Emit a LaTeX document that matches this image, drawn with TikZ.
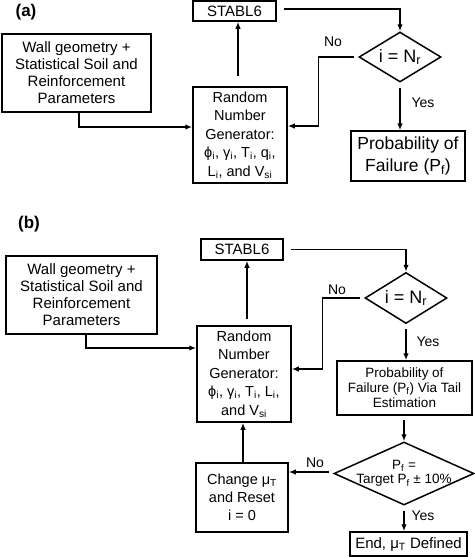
\documentclass[tikz,border=0pt]{standalone}
\usepackage{fontspec}
\setmainfont{Liberation Sans}
\usetikzlibrary{shapes.geometric,arrows.meta}

\newlength{\du}
\setlength{\du}{1pt}
\definecolor{dialinecolor}{rgb}{0.000000, 0.000000, 0.000000}
\tikzset{
  flowbox/.style={draw=dialinecolor, rectangle, align=center, inner sep=0pt},
  flowdiamond/.style={draw=dialinecolor, diamond, align=center, inner sep=0pt},
  flowarrow/.style={draw=dialinecolor, -{Latex[length=7pt,width=5.5pt]}},
  flowlabel/.style={inner sep=0pt, font=\fontsize{14}{16}\selectfont},
  panellabel/.style={inner sep=0pt, font=\bfseries\fontsize{17}{20}\selectfont},
}

\begin{document}
\begin{tikzpicture}
\pgftransformxscale{1.000000}
\pgftransformyscale{-1.000000}
\pgfsetlinewidth{1.500000\du}
\useasboundingbox (0\du,0\du) rectangle (474\du,557\du);
% panel (a)
\node[panellabel] (labelA) at (26\du,12\du){(a)};
\node[flowbox, minimum width=83\du, minimum height=20\du, font=\fontsize{15}{17}\selectfont] (stablA) at (234.5\du,11\du){STABL6};
\node[flowbox, minimum width=149\du, minimum height=78\du, font=\fontsize{15}{17}\selectfont] (wallA) at (76.5\du,73\du){Wall geometry +\\Statistical Soil and\\Reinforcement\\Parameters};
\node[flowbox, minimum width=94\du, minimum height=96\du, font=\fontsize{14.5}{18.5}\selectfont] (rngA) at (240\du,135\du){Random\\Number\\Generator:\\ϕ\textsubscript{i}, γ\textsubscript{i}, T\textsubscript{i}, q\textsubscript{i},\\L\textsubscript{i}, and V\textsubscript{si}};
\node[flowdiamond, aspect=1.64, minimum width=82\du, minimum height=50\du, font=\fontsize{18}{20}\selectfont] (decideA) at (400\du,57\du){i = N\textsubscript{r}};
\node[flowbox, minimum width=114\du, minimum height=50\du, font=\fontsize{17.5}{22}\selectfont] (probA) at (408\du,156\du){Probability of\\Failure (P\textsubscript{f})};
\node[flowlabel] (noA) at (333\du,42\du){No};
\node[flowlabel] (yesA) at (423\du,103\du){Yes};
\draw[flowarrow] ([xshift=2.5\du]wallA.south) |- ([yshift=-8\du]rngA.west);
\draw[flowarrow, shorten <=10\du] ([xshift=-2\du]rngA.north) -- ([xshift=-2\du]rngA.north |- stablA.south);
\draw[flowarrow, shorten <=7\du] ([yshift=-2\du]stablA.east) -| (decideA.north);
\draw[flowarrow, shorten <=4\du] (decideA.west) -- ++(-40\du,0) |- ([yshift=-9\du]rngA.east);
\draw[flowarrow, shorten <=5\du] (decideA.south) -- (decideA.south |- probA.north);
% panel (b)
\node[panellabel] (labelB) at (29\du,224\du){(b)};
\node[flowbox, minimum width=82\du, minimum height=21\du, font=\fontsize{15}{17}\selectfont] (stablB) at (242\du,249.5\du){STABL6};
\node[flowbox, minimum width=151\du, minimum height=78\du, font=\fontsize{15}{17}\selectfont] (wallB) at (81.5\du,295\du){Wall geometry +\\Statistical Soil and\\Reinforcement\\Parameters};
\node[flowbox, minimum width=94\du, minimum height=96\du, font=\fontsize{14.5}{18.5}\selectfont] (rngB) at (244\du,374\du){Random\\Number\\Generator:\\ϕ\textsubscript{i}, γ\textsubscript{i}, T\textsubscript{i}, L\textsubscript{i},\\and V\textsubscript{si}};
\node[flowdiamond, aspect=1.6, minimum width=82\du, minimum height=51\du, font=\fontsize{18}{20}\selectfont] (decideB) at (406\du,298\du){i = N\textsubscript{r}};
\node[flowbox, minimum width=135\du, minimum height=54\du, font=\fontsize{13.5}{15}\selectfont] (probB) at (404.5\du,388\du){Probability of\\Failure (P\textsubscript{f}) Via Tail\\Estimation};
\node[flowdiamond, aspect=2.22, inner sep=-10\du, minimum width=140\du, minimum height=63\du, font=\fontsize{13.5}{14.5}\selectfont] (targetB) at (404\du,473.5\du){P\textsubscript{f} =\\Target P\textsubscript{f} ± 10\%};
\node[flowbox, minimum width=92\du, minimum height=69\du, font=\fontsize{14.5}{18}\selectfont] (changeB) at (242\du,497.5\du){Change μ\textsubscript{T}\\and Reset\\i = 0};
\node[flowbox, minimum width=117\du, minimum height=24\du, font=\fontsize{15}{17}\selectfont] (endB) at (408.5\du,544\du){End, μ\textsubscript{T} Defined};
\node[flowlabel] (noB) at (337\du,290\du){No};
\node[flowlabel] (yesB) at (428\du,342\du){Yes};
\node[flowlabel] (noC) at (315\du,463\du){No};
\node[flowlabel] (yesC) at (423\du,516\du){Yes};
\draw[flowarrow] ([xshift=4.5\du]wallB.south) |- ([yshift=-26\du]rngB.west);
\draw[flowarrow, shorten <=6\du] ([xshift=3\du]rngB.north) -- ([xshift=3\du]rngB.north |- stablB.south);
\draw[flowarrow, shorten <=7\du] (stablB.east) -| (decideB.north);
\draw[flowarrow, shorten <=4\du] (decideB.west) -- ++(-42\du,0) |- ([yshift=-5\du]rngB.east);
\draw[flowarrow, shorten <=5\du] (decideB.south) -- (decideB.south |- probB.north);
\draw[flowarrow, shorten <=4\du] (probB.south -| targetB.north) -- (targetB.north);
\draw[flowarrow, shorten <=4\du] ([yshift=-1.5\du]targetB.west) -- ([yshift=-1.5\du]targetB.west -| changeB.east);
\draw[flowarrow] ([xshift=1\du]changeB.north) -- ([xshift=1\du]changeB.north |- rngB.south);
\draw[flowarrow, shorten <=5\du] (targetB.south) -- (targetB.south |- endB.north);
\end{tikzpicture}
\end{document}
